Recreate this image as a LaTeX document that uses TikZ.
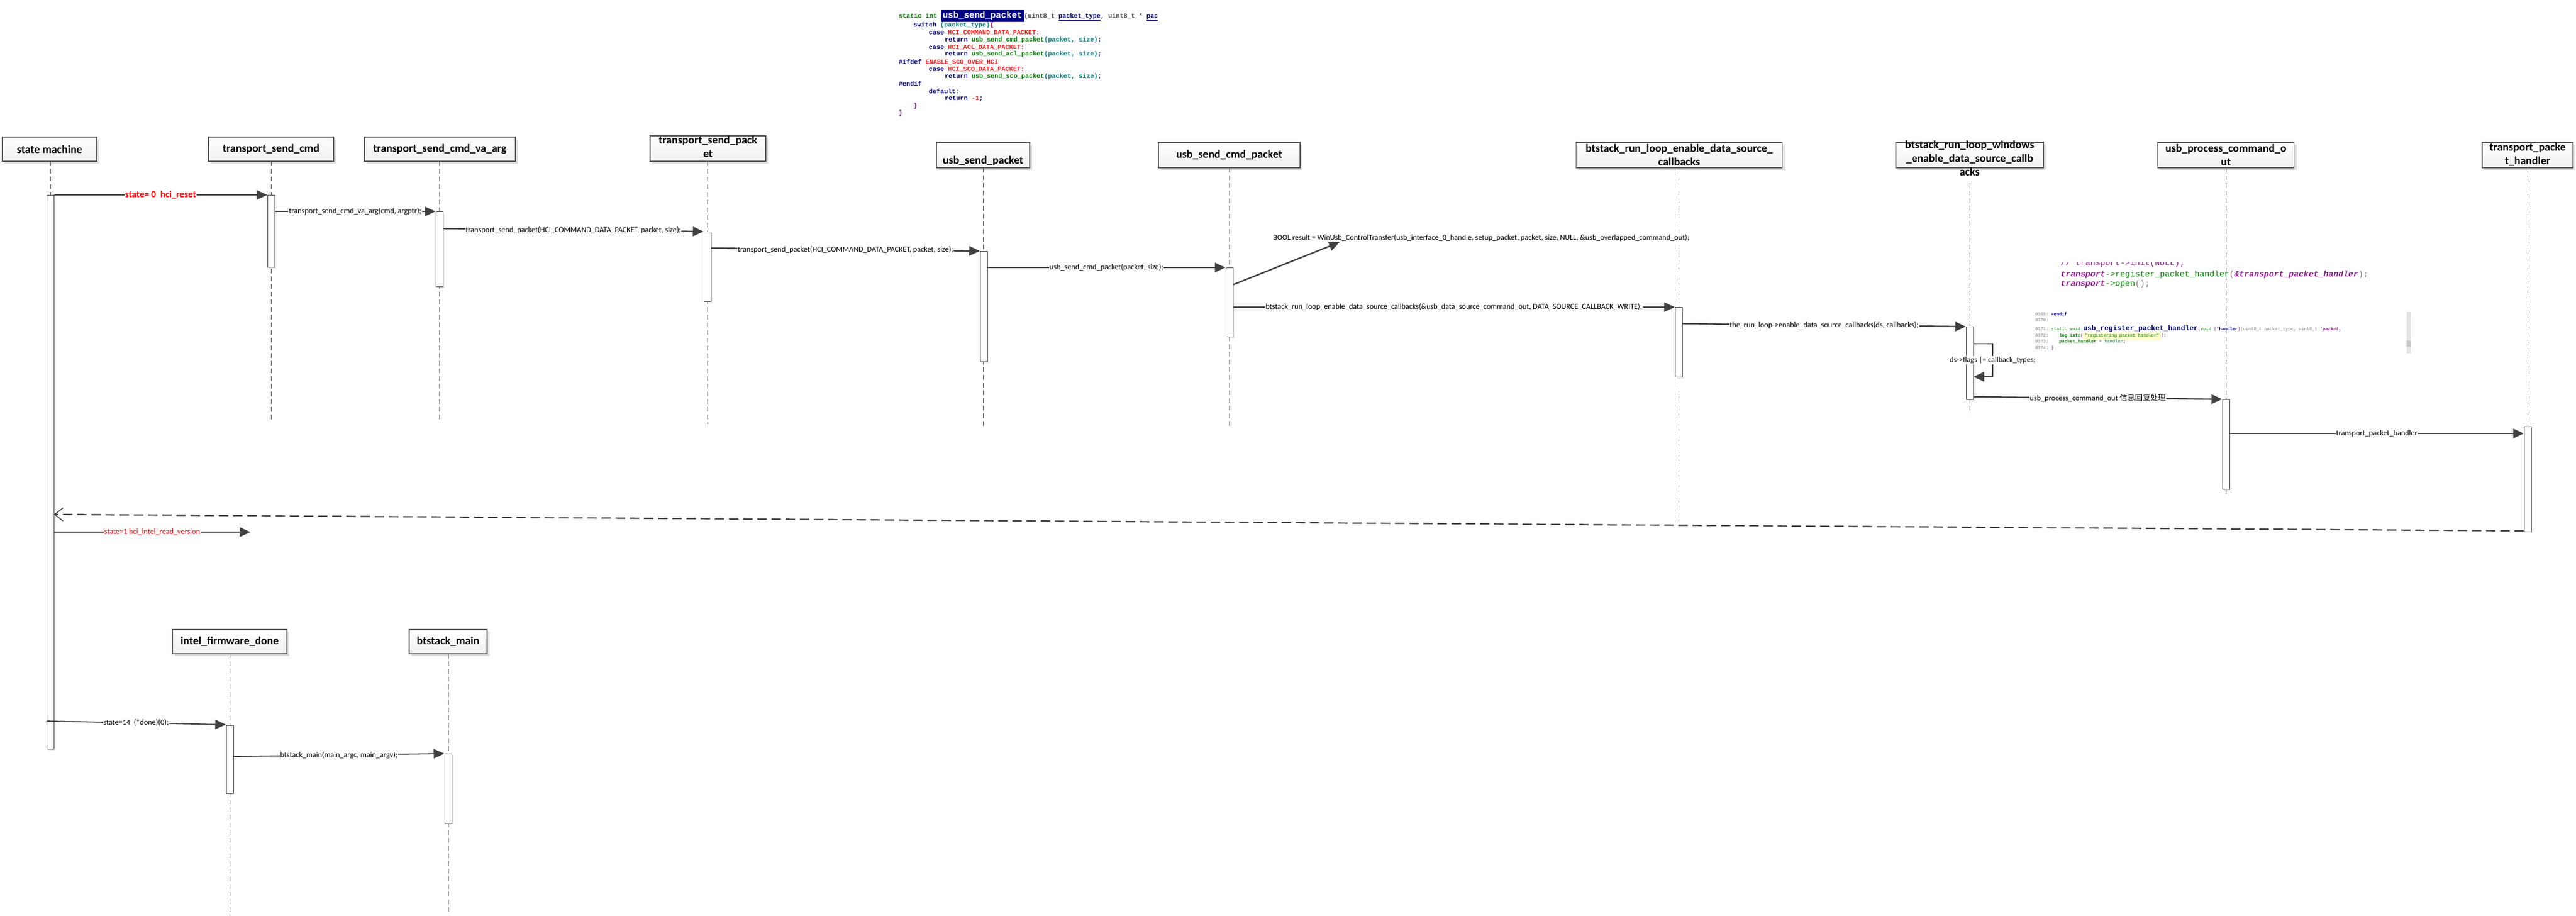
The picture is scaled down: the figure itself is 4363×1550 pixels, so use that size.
\documentclass[tikz,border=0pt]{standalone}
\usepackage{fontspec}
\setmainfont{Carlito}
\setmonofont{Liberation Mono}
\newfontfamily\cjk{Noto Sans CJK SC}
\usetikzlibrary{arrows.meta,shadows}
\definecolor{ln}{HTML}{404040}
\definecolor{kw}{HTML}{000080}
\definecolor{fn}{HTML}{008000}
\definecolor{ar}{HTML}{008080}
\definecolor{cr}{HTML}{FF2020}
\definecolor{pu}{HTML}{8B1C8B}
\tikzset{
 hdr/.style={draw=gray!70!black, line width=1.2pt, top color=white, bottom color=gray!12, drop shadow={opacity=0.25,shadow xshift=4pt,shadow yshift=-4pt}, inner sep=0},
 htxt/.style={font=\fontsize{19}{23}\selectfont\bfseries, align=center, inner sep=0},
 bar/.style={draw=gray!60!black, line width=1pt, fill=white, minimum width=12pt, inner sep=0, drop shadow={opacity=0.2,shadow xshift=3pt,shadow yshift=-3pt}},
 life/.style={draw=gray!70!black, dashed, dash pattern=on 8pt off 5pt, line width=0.9pt},
 msg/.style={draw=ln, line width=2.4pt, -{Triangle[length=18pt,width=16pt]}},
 ret/.style={draw=ln, line width=2.2pt, dash pattern=on 16pt off 8pt, -{Straight Barb[length=14pt,width=22pt,line width=1.5pt]}},
 lbl/.style={fill=white, inner sep=1pt, font=\fontsize{13}{15}\selectfont},
 rlbl/.style={fill=white, inner sep=1pt, text=red, font=\fontsize{13}{15}\selectfont},
 code/.style={anchor=west, inner sep=0, font=\ttfamily\bfseries\fontsize{10.8}{12}\selectfont},
}
\begin{document}
\begin{tikzpicture}[x=1pt,y=-1pt]
\useasboundingbox[fill=white] (0,0) rectangle (4363,1550);
% ---------- lifelines ----------
\draw[life] (85,273) -- (85,330);
\draw[life] (459,273) -- (459,710);
\draw[life] (744,273) -- (744,710);
\draw[life] (1198,273) -- (1198,718);
\draw[life] (1665,284) -- (1665,723);
\draw[life] (2082,284) -- (2082,723);
\draw[life] (2843,284) -- (2843,885);
\draw[life] (3336,310) -- (3336,700);
\draw[life] (3770,284) -- (3770,836);
\draw[life] (4281,284) -- (4281,722);
\draw[life] (389,1107) -- (389,1545);
\draw[life] (759,1107) -- (759,1545);
% ---------- headers ----------
\node[hdr, minimum width=160pt, minimum height=41pt] (hSM) at (84,252.5) {};
\node[htxt] (tSM) at (hSM) {state machine};
\node[hdr, minimum width=212pt, minimum height=41pt] (hTSC) at (459,252.5) {};
\node[htxt] (tTSC) at (hTSC) {transport\_send\_cmd};
\node[hdr, minimum width=256pt, minimum height=41pt] (hVA) at (745,252.5) {};
\node[htxt] (tVA) at (hVA) {transport\_send\_cmd\_va\_arg};
\node[hdr, minimum width=196pt, minimum height=43pt] (hTSP) at (1199,251.5) {};
\node[htxt] (tTSP) at (1199,248) {transport\_send\_pack\\et};
\node[hdr, minimum width=158pt, minimum height=43pt] (hUSP) at (1665,262.5) {};
\node[htxt] (tUSP) at (1665,272) {usb\_send\_packet};
\node[hdr, minimum width=240pt, minimum height=43pt] (hUSC) at (2082,262.5) {};
\node[htxt] (tUSC) at (hUSC) {usb\_send\_cmd\_packet};
\node[hdr, minimum width=349pt, minimum height=43pt] (hBRL) at (2844,262.5) {};
\node[htxt] (tBRL) at (2844,262) {btstack\_run\_loop\_enable\_data\_source\_\\callbacks};
\node[hdr, minimum width=250pt, minimum height=43pt] (hWIN) at (3336,262.5) {};
\node[htxt] (tWIN) at (3336,268) {btstack\_run\_loop\_windows\\\_enable\_data\_source\_callb\\acks};
\node[hdr, minimum width=231pt, minimum height=43pt] (hUPC) at (3770,262.5) {};
\node[htxt] (tUPC) at (3770,262) {usb\_process\_command\_o\\ut};
\node[hdr, minimum width=154pt, minimum height=43pt] (hTPH) at (4281,262.5) {};
\node[htxt] (tTPH) at (4281,262) {transport\_packe\\t\_handler};
\node[hdr, minimum width=194pt, minimum height=41pt] (hIFD) at (389,1086.5) {};
\node[htxt] (tIFD) at (hIFD) {intel\_firmware\_done};
\node[hdr, minimum width=132pt, minimum height=41pt] (hBM) at (759,1086.5) {};
\node[htxt] (tBM) at (hBM) {btstack\_main};
% ---------- activation bars ----------
\node[bar, minimum height=938pt] (bSM) at (85,799) {};
\node[bar, minimum height=122pt] (bTSC) at (459,391) {};
\node[bar, minimum height=127pt] (bVA) at (744,421.5) {};
\node[bar, minimum height=118pt] (bTSP) at (1198,451) {};
\node[bar, minimum height=187pt] (bUSP) at (1666,518.5) {};
\node[bar, minimum height=117pt] (bUSC) at (2082,511.5) {};
\node[bar, minimum height=118pt] (bBRL) at (2843,579) {};
\node[bar, minimum height=123pt] (bWIN) at (3336,614.5) {};
\node[bar, minimum height=152pt] (bUPC) at (3770,752) {};
\node[bar, minimum height=178pt] (bTPH) at (4281,811) {};
\node[bar, minimum height=115pt] (bIFD) at (389,1285.5) {};
\node[bar, minimum height=118pt] (bBM) at (759,1335) {};
\coordinate (cTarget) at (2269,410);
\coordinate (cRead) at (424,901);
% ---------- messages ----------
\draw[msg] (bSM.east |- 0,330) -- node[fill=white,inner sep=1pt,text=red,font=\fontsize{16}{18}\selectfont\bfseries]{state= 0\ \ hci\_reset} (bTSC.west |- 0,330);
\draw[msg] (bTSC.east |- 0,358) -- node[lbl]{transport\_send\_cmd\_va\_arg(cmd, argptr);} (bVA.west |- 0,358);
\draw[msg] (bVA.east |- 0,387) -- node[lbl]{transport\_send\_packet(HCI\_COMMAND\_DATA\_PACKET, packet, size);} (bTSP.west |- 0,392);
\draw[msg] (bTSP.east |- 0,420) -- node[lbl]{transport\_send\_packet(HCI\_COMMAND\_DATA\_PACKET, packet, size);} (bUSP.west |- 0,425);
\draw[msg] (bUSP.east |- 0,453) -- node[lbl]{usb\_send\_cmd\_packet(packet, size);} (bUSC.west |- 0,453);
\draw[msg] (bUSC.east |- 0,482) -- (cTarget);
\node[lbl, anchor=west] (lBOOL) at (2155,403) {BOOL result = WinUsb\_ControlTransfer(usb\_interface\_0\_handle, setup\_packet, packet, size, NULL, \&usb\_overlapped\_command\_out);};
\draw[msg] (bUSC.east |- 0,520) -- node[lbl]{btstack\_run\_loop\_enable\_data\_source\_callbacks(\&usb\_data\_source\_command\_out, DATA\_SOURCE\_CALLBACK\_WRITE);} (bBRL.west |- 0,520);
\draw[msg] (bBRL.east |- 0,548) -- node[lbl]{the\_run\_loop->enable\_data\_source\_callbacks(ds, callbacks);} (bWIN.west |- 0,553);
\draw[msg] (bWIN.east |- 0,582) -- (3375,582) -- node[lbl]{ds->flags |= callback\_types;} (3375,638) -- (bWIN.east |- 0,638);
\draw[msg] (bWIN.east |- 0,672) -- node[lbl]{usb\_process\_command\_out {\cjk 信息回复处理}} (bUPC.west |- 0,676);
\draw[msg] (bUPC.east |- 0,734) -- node[lbl]{transport\_packet\_handler} (bTPH.west |- 0,734);
\draw[ret] (bTPH.west |- 0,899) -- (bSM.east |- 0,871);
\draw[msg, line width=1.8pt] (bSM.east |- 0,901) -- node[rlbl]{state=1 hci\_intel\_read\_version} (cRead);
\draw[msg, line width=1.8pt] (bSM.west |- 0,1221) -- node[lbl]{state=14\ \ (*done)(0);} (bIFD.west |- 0,1227);
\draw[msg, line width=1.8pt] (bIFD.east |- 0,1281) -- node[lbl]{btstack\_main(main\_argc, main\_argv);} (bBM.west |- 0,1276);
% ---------- code snippet 1 ----------
\begin{scope}
\clip (1515,0) rectangle (1968,200);
\node[code] (c0) at (1522,27) {\color{fn}static int \colorbox{kw}{\color{white}\fontsize{15}{15}\selectfont usb\_send\_packet}\color{gray!60!black}(uint8\_t \color{kw}\underline{packet\_type}\color{gray!60!black}, uint8\_t * \color{kw}\underline{pac}};
\node[code] (c1) at (1547,43) {\color{kw}switch \color{ar}(packet\_type)\color{pu}\{};
\node[code] (c2) at (1573,55) {\color{kw}case \color{cr}HCI\_COMMAND\_DATA\_PACKET:};
\node[code] (c3) at (1600,68) {\color{kw}return \color{fn}usb\_send\_cmd\_packet\color{ar}(packet, size)\color{kw};};
\node[code] (c4) at (1573,80) {\color{kw}case \color{cr}HCI\_ACL\_DATA\_PACKET:};
\node[code] (c5) at (1600,92) {\color{kw}return \color{fn}usb\_send\_acl\_packet\color{ar}(packet, size)\color{kw};};
\node[code] (c6) at (1522,105) {\color{kw}\#ifdef \color{cr}ENABLE\_SCO\_OVER\_HCI};
\node[code] (c7) at (1573,117) {\color{kw}case \color{cr}HCI\_SCO\_DATA\_PACKET:};
\node[code] (c8) at (1600,130) {\color{kw}return \color{fn}usb\_send\_sco\_packet\color{ar}(packet, size)\color{kw};};
\node[code] (c9) at (1522,142) {\color{kw}\#endif};
\node[code] (c10) at (1573,155) {\color{kw}default\color{ar}:};
\node[code] (c11) at (1600,167) {\color{kw}return \color{cr}-1\color{kw};};
\node[code] (c12) at (1547,180) {\color{pu}\}};
\node[code] (c13) at (1522,192) {\color{pu}\}};
\end{scope}
% ---------- code snippet 2 ----------
\begin{scope}
\clip (3480,443) rectangle (4040,495);
\node[code, font=\ttfamily\fontsize{14}{16}\selectfont] (d0) at (3490,446) {\color{pu}// transport->init(NULL);};
\node[code, font=\ttfamily\fontsize{14}{16}\selectfont] (d1) at (3490,465) {\color{pu}\textbf{\textit{transport}}\color{fn}->register\_packet\_handler\color{gray}(\color{pu}\textbf{\textit{\&transport\_packet\_handler}}\color{gray});};
\node[code, font=\ttfamily\fontsize{14}{16}\selectfont] (d2) at (3490,481) {\color{pu}\textbf{\textit{transport}}\color{fn}->open\color{gray}();};
\end{scope}
% ---------- code snippet 3 ----------
\fill[gray!20] (4076,528) rectangle (4083,598);
\fill[gray!45] (4076,577) rectangle (4083,587);
\begin{scope}
\clip (3440,525) rectangle (4075,600);
\node[code, font=\ttfamily\fontsize{7.5}{8}\selectfont] (e0) at (3447,532) {\color{gray}0369: \color{kw}\textbf{\#endif}};
\node[code, font=\ttfamily\fontsize{7.5}{8}\selectfont] (e1) at (3447,542) {\color{gray}0370:};
\node[code, font=\ttfamily\fontsize{7.5}{8}\selectfont] (e2) at (3447,556) {\color{gray}0371: \color{fn}static void \color{kw}\textbf{\fontsize{12}{12}\selectfont usb\_register\_packet\_handler}\color{pu}(\color{fn}void \color{pu}(*\color{kw}\textbf{handler}\color{pu})\color{gray}(uint8\_t packet\_type, uint8\_t *\color{pu}\textbf{\textit{packet}},};
\node[code, font=\ttfamily\fontsize{7.5}{8}\selectfont] (e3) at (3447,569) {\color{gray}0372:\ \ \ \ \color{fn}\textbf{log\_info}\color{pu}(\colorbox{yellow!20}{\color{fn}"registering packet handler"}\color{pu});};
\node[code, font=\ttfamily\fontsize{7.5}{8}\selectfont] (e4) at (3447,579) {\color{gray}0373:\ \ \ \ \color{fn}\textbf{packet\_handler} \color{kw}= \color{ar}handler\color{kw};};
\node[code, font=\ttfamily\fontsize{7.5}{8}\selectfont] (e5) at (3447,590) {\color{gray}0374: \color{pu}\}};
\end{scope}
\end{tikzpicture}
\end{document}
